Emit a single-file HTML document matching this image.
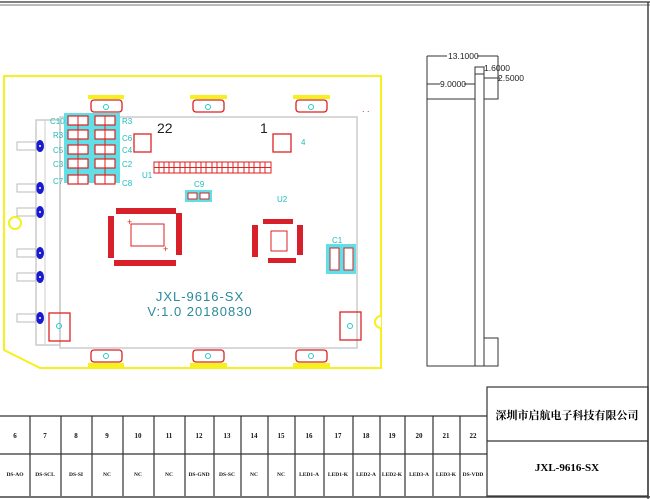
<!DOCTYPE html>
<html><head><meta charset="utf-8"><style>
html,body{margin:0;padding:0;background:#fff;}
svg{display:block;}
</style></head><body>
<svg width="650" height="499" viewBox="0 0 650 499" xmlns="http://www.w3.org/2000/svg" font-family="Liberation Sans, sans-serif">
<line x1="0" y1="2" x2="650" y2="2" stroke="#555" stroke-width="1.5"/>
<line x1="0" y1="5" x2="650" y2="5" stroke="#777" stroke-width="1"/>
<line x1="648" y1="2" x2="648" y2="499" stroke="#444" stroke-width="1.5"/>
<line x1="0" y1="497" x2="650" y2="497" stroke="#444" stroke-width="1.5"/>

<path d="M4,76 L381,76 L381,368 L40,368 L4,350 Z" fill="none" stroke="#f5f01e" stroke-width="2"/>
<circle cx="15" cy="223" r="6" fill="#fff" stroke="#f5f01e" stroke-width="2"/>
<path d="M381,316 A6,6 0 0 0 381,328" fill="#fff" stroke="#f5f01e" stroke-width="2"/>
<rect x="60" y="117" width="297" height="231" fill="none" stroke="#ccc" stroke-width="1.5"/>
<rect x="36" y="120" width="24" height="225" fill="none" stroke="#ccc" stroke-width="1.5"/>
<line x1="45" y1="120" x2="45" y2="345" stroke="#ccc"/>
<g>
<rect x="88" y="95" width="36" height="4" fill="#f5f01e"/><rect x="91" y="100" width="31" height="12" rx="3" fill="#fff" stroke="#d22" stroke-width="1.3"/><circle cx="106" cy="107" r="2.5" fill="none" stroke="#2cc"/>
<rect x="190" y="95" width="37" height="4" fill="#f5f01e"/><rect x="193" y="100" width="31" height="12" rx="3" fill="#fff" stroke="#d22" stroke-width="1.3"/><circle cx="208" cy="107" r="2.5" fill="none" stroke="#2cc"/>
<rect x="293" y="95" width="37" height="4" fill="#f5f01e"/><rect x="296" y="100" width="31" height="12" rx="3" fill="#fff" stroke="#d22" stroke-width="1.3"/><circle cx="311" cy="107" r="2.5" fill="none" stroke="#2cc"/>
<rect x="88" y="363" width="36" height="4" fill="#f5f01e"/><rect x="91" y="350" width="31" height="12" rx="3" fill="#fff" stroke="#d22" stroke-width="1.3"/><circle cx="106" cy="356" r="2.5" fill="none" stroke="#2cc"/>
<rect x="190" y="363" width="37" height="4" fill="#f5f01e"/><rect x="193" y="350" width="31" height="12" rx="3" fill="#fff" stroke="#d22" stroke-width="1.3"/><circle cx="208" cy="356" r="2.5" fill="none" stroke="#2cc"/>
<rect x="293" y="363" width="37" height="4" fill="#f5f01e"/><rect x="296" y="350" width="31" height="12" rx="3" fill="#fff" stroke="#d22" stroke-width="1.3"/><circle cx="311" cy="356" r="2.5" fill="none" stroke="#2cc"/>
</g>
<rect x="49" y="313" width="21" height="28" fill="none" stroke="#d22" stroke-width="1.3"/><circle cx="59" cy="326" r="2.5" fill="none" stroke="#2cc"/>
<rect x="340" y="312" width="21" height="28" fill="none" stroke="#d22" stroke-width="1.3"/><circle cx="350" cy="326" r="2.5" fill="none" stroke="#2cc"/>
<text x="362" y="112" font-size="9" fill="#d22">. .</text>
<g fill="#1a1ad0">
<ellipse cx="40" cy="146" rx="4" ry="6"/><ellipse cx="40" cy="188" rx="4" ry="6"/><ellipse cx="40" cy="212" rx="4" ry="6"/>
<ellipse cx="40" cy="253" rx="4" ry="6"/><ellipse cx="40" cy="277" rx="4" ry="6"/><ellipse cx="40" cy="318" rx="4" ry="6"/>
</g>
<g fill="#fff">
<circle cx="40" cy="146" r="1"/><circle cx="40" cy="188" r="1"/><circle cx="40" cy="212" r="1"/><circle cx="40" cy="253" r="1"/><circle cx="40" cy="277" r="1"/><circle cx="40" cy="318" r="1"/>
</g>
<g fill="none" stroke="#bbb">
<rect x="17" y="142" width="19" height="8"/><rect x="17" y="184" width="19" height="8"/><rect x="17" y="208" width="19" height="8"/>
<rect x="17" y="249" width="19" height="8"/><rect x="17" y="273" width="19" height="8"/><rect x="17" y="314" width="19" height="8"/>
</g>
<g>
<rect x="64" y="113" width="56" height="70" fill="#5fe0e8"/>
<g fill="#fff" stroke="#d22" stroke-width="1.2">
<rect x="68" y="116" width="20" height="9"/><rect x="95" y="116" width="20" height="9"/>
<rect x="68" y="130" width="20" height="9"/><rect x="95" y="130" width="20" height="9"/>
<rect x="68" y="145" width="20" height="9"/><rect x="95" y="145" width="20" height="9"/>
<rect x="68" y="159" width="20" height="9"/><rect x="95" y="159" width="20" height="9"/>
<rect x="68" y="175" width="20" height="9"/><rect x="95" y="175" width="20" height="9"/>
</g>
<g stroke="#d22" stroke-width="1"><line x1="78" y1="116" x2="78" y2="184"/><line x1="105" y1="116" x2="105" y2="184"/></g>
</g>
<g font-size="8" fill="#2bb">
<text x="50" y="124">C10</text><text x="53" y="138">R3</text><text x="53" y="153">C5</text><text x="53" y="167">C3</text><text x="53" y="184">C7</text>
<text x="122" y="124">R3</text><text x="122" y="141">C6</text><text x="122" y="153">C4</text><text x="122" y="167">C2</text><text x="122" y="186">C8</text>
<text x="142" y="178">U1</text><text x="277" y="202">U2</text><text x="194" y="187">C9</text>
<text x="301" y="145">4</text><text x="332" y="243">C1</text>
</g>
<text x="157" y="133" font-size="14" fill="#222">22</text>
<text x="260" y="133" font-size="14" fill="#222">1</text>
<rect x="134" y="134" width="17" height="18" fill="none" stroke="#d22" stroke-width="1.3"/>
<rect x="273" y="134" width="18" height="18" fill="none" stroke="#d22" stroke-width="1.3"/>
<rect x="154" y="162" width="117" height="11" fill="none" stroke="#d22" stroke-width="1"/>
<g stroke="#d22" stroke-width="1">
<path d="M159,162V173M164,162V173M169,162V173M174,162V173M180,162V173M185,162V173M190,162V173M196,162V173M201,162V173M206,162V173M212,162V173M217,162V173M222,162V173M228,162V173M233,162V173M238,162V173M244,162V173M249,162V173M254,162V173M260,162V173M265,162V173"/>
<line x1="154" y1="167.5" x2="271" y2="167.5"/>
</g>
<rect x="185" y="190" width="27" height="12" fill="#5fe0e8"/>
<rect x="188" y="193" width="9" height="6" fill="#fff" stroke="#d22"/><rect x="200" y="193" width="9" height="6" fill="#fff" stroke="#d22"/>
<g fill="#d8202a">
<rect x="116" y="208" width="60" height="6"/><rect x="114" y="260" width="62" height="6"/>
<rect x="108" y="216" width="6" height="42"/><rect x="176" y="213" width="6" height="42"/>
</g>
<rect x="131" y="224" width="33" height="22" fill="none" stroke="#d22"/>
<text x="127" y="225" font-size="9" fill="#d22">+</text><text x="163" y="252" font-size="9" fill="#d22">+</text>
<g fill="#d8202a">
<rect x="263" y="219" width="30" height="5"/><rect x="268" y="258" width="28" height="5"/>
<rect x="252" y="225" width="6" height="32"/><rect x="297" y="225" width="6" height="30"/>
</g>
<rect x="271" y="231" width="16" height="20" fill="none" stroke="#d22"/>
<rect x="326" y="244" width="30" height="30" fill="#5fe0e8"/>
<rect x="330" y="248" width="9" height="22" fill="#fff" stroke="#d22"/><rect x="344" y="248" width="9" height="22" fill="#fff" stroke="#d22"/>
<text x="200" y="301" font-size="13" fill="#2a8a9a" text-anchor="middle" letter-spacing="1">JXL-9616-SX</text>
<text x="200" y="316" font-size="13" fill="#2a8a9a" text-anchor="middle" letter-spacing="1">V:1.0  20180830</text>

<g fill="none" stroke="#333" stroke-width="1">
<rect x="427" y="99" width="48" height="267"/>
<line x1="427" y1="56" x2="427" y2="99"/>
<rect x="475" y="67" width="9" height="299"/>
<line x1="475" y1="74" x2="484" y2="74"/>
<rect x="484" y="78" width="14" height="21"/>
<rect x="484" y="338" width="14" height="28"/>
<line x1="498" y1="56" x2="498" y2="78"/>
<line x1="427" y1="56" x2="498" y2="56"/>
<line x1="427" y1="84" x2="475" y2="84"/>
<line x1="484" y1="78" x2="500" y2="78"/>
</g>
<g font-size="8.5" fill="#222">
<rect x="447" y="52" width="30" height="8" fill="#fff"/><text x="448" y="59">13.1000</text>
<rect x="440" y="80" width="24" height="8" fill="#fff"/><text x="440" y="87">9.0000</text>
<text x="484" y="71">1.6000</text>
<text x="498" y="81">2.5000</text>
</g>

<g fill="none" stroke="#333" stroke-width="1.2">
<rect x="487" y="387" width="161" height="109"/>
<line x1="487" y1="441" x2="648" y2="441"/>
<line x1="0" y1="416" x2="487" y2="416"/>
<line x1="0" y1="454" x2="487" y2="454"/>
<path d="M30,416V496M61,416V496M92,416V496M123,416V496M154,416V496M185,416V496M214,416V496M241,416V496M268,416V496M295,416V496M324,416V496M353,416V496M380,416V496M405,416V496M433,416V496M460,416V496"/>
</g>
<text x="567" y="419" font-size="11" font-weight="bold" text-anchor="middle" font-family="Liberation Serif, Noto Serif CJK SC, serif">深圳市启航电子科技有限公司</text>
<text x="567" y="471" font-size="11" font-weight="bold" text-anchor="middle" font-family="Liberation Serif, serif">JXL-9616-SX</text>
<g font-size="7" font-weight="bold" text-anchor="middle" font-family="Liberation Serif, serif" fill="#111">
<text x="15" y="438">6</text><text x="45" y="438">7</text><text x="76" y="438">8</text><text x="107" y="438">9</text><text x="138" y="438">10</text><text x="169" y="438">11</text><text x="199" y="438">12</text><text x="227" y="438">13</text><text x="254" y="438">14</text><text x="281" y="438">15</text><text x="309" y="438">16</text><text x="338" y="438">17</text><text x="366" y="438">18</text><text x="392" y="438">19</text><text x="419" y="438">20</text><text x="446" y="438">21</text><text x="473" y="438">22</text>
<g font-size="5.5">
<text x="15" y="476">DS-AO</text><text x="45" y="476">DS-SCL</text><text x="76" y="476">DS-SI</text><text x="107" y="476">NC</text><text x="138" y="476">NC</text><text x="169" y="476">NC</text><text x="199" y="476">DS-GND</text><text x="227" y="476">DS-SC</text><text x="254" y="476">NC</text><text x="281" y="476">NC</text><text x="309" y="476">LED1-A</text><text x="338" y="476">LED1-K</text><text x="366" y="476">LED2-A</text><text x="392" y="476">LED2-K</text><text x="419" y="476">LED3-A</text><text x="446" y="476">LED3-K</text><text x="473" y="476">DS-VDD</text>
</g>
</g>
</svg>
</body></html>
